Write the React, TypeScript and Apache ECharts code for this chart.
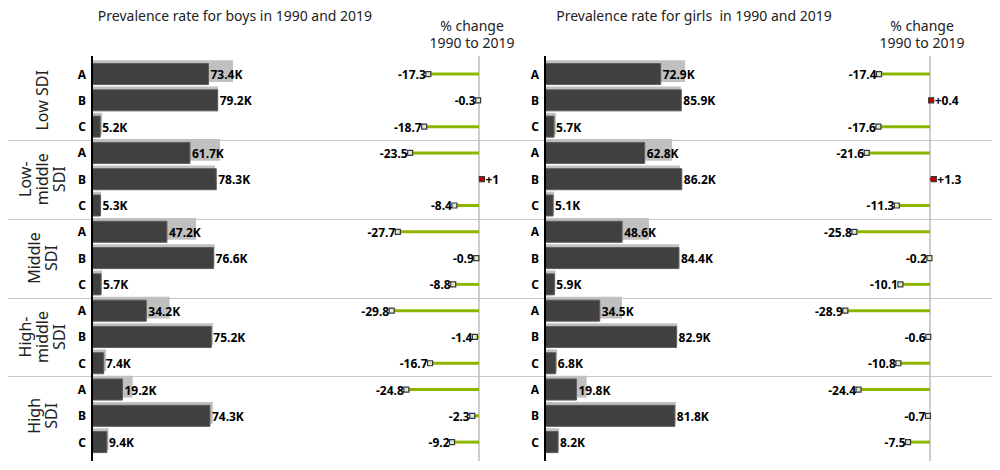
import React, { useEffect, useRef } from "react";
import * as echarts from "echarts";

const groupLabels = ["Low SDI", "Low-\nmiddle\nSDI", "Middle\nSDI", "High-\nmiddle\nSDI", "High\nSDI"];
const subcats = ["A", "B", "C"];
const boys2019 = [73.4, 79.2, 5.2, 61.7, 78.3, 5.3, 47.2, 76.6, 5.7, 34.2, 75.2, 7.4, 19.2, 74.3, 9.4];
const boys1990 = [88.8, 79.4, 6.4, 80.7, 77.5, 5.8, 65.6, 77.3, 6.3, 48.9, 76.3, 8.9, 25.6, 76.1, 10.4];
const boysChange = [-17.3, -0.3, -18.7, -23.5, 1, -8.4, -27.7, -0.9, -8.8, -29.8, -1.4, -16.7, -24.8, -2.3, -9.2];
const girls2019 = [72.9, 85.9, 5.7, 62.8, 86.2, 5.1, 48.6, 84.4, 5.9, 34.5, 82.9, 6.8, 19.8, 81.8, 8.2];
const girls1990 = [88.3, 85.6, 6.9, 80.1, 85.1, 5.8, 65.5, 84.6, 6.6, 48.5, 83.4, 7.6, 26.2, 82.4, 8.9];
const girlsChange = [-17.4, 0.4, -17.6, -21.6, 1.3, -11.3, -25.8, -0.2, -10.1, -28.9, -0.6, -10.8, -24.4, -0.7, -7.5];

const titleBoys = "Prevalence rate for boys in 1990 and 2019";
const titleGirls = "Prevalence rate for girls  in 1990 and 2019";
const titleChange = "% change\n1990 to 2019";

const FONT = '"Noto Sans", "Open Sans", sans-serif';
const TOP = 60.9;
const ROW = 26.29;
const NROWS = groupLabels.length * subcats.length;
const PLOT_H = ROW * NROWS;
const BAR_W = 158.7; // for 0..100 K
const CH_MIN = -35;
const CH_MAX = 5;
const CH_W = 117.2;
const BOYS_BAR_LEFT = 92;
const GIRLS_BAR_LEFT = 545;
const BOYS_ZERO = 479;
const GIRLS_ZERO = 930;

const rowCats: string[] = [];
groupLabels.forEach((g, gi) => subcats.forEach((s) => rowCats.push(gi + "|" + s)));

const prevRender = (params: any, api: any) => {
  const val = api.value(0);
  const idx = api.value(1);
  const p0 = api.coord([0, idx]);
  const p1 = api.coord([val, idx]);
  const band = api.size([0, 1])[1];
  const h = band * 0.8;
  return {
    type: "rect",
    shape: { x: p0[0], y: p0[1] - h / 2 - 3.3, width: p1[0] - p0[0], height: h + 0.7 },
    style: { fill: "#c0c0c0" },
  };
};

const curRender = (params: any, api: any) => {
  const val = api.value(0);
  const idx = api.value(1);
  const p0 = api.coord([0, idx]);
  const p1 = api.coord([val, idx]);
  const band = api.size([0, 1])[1];
  const h = band * 0.8;
  return {
    type: "group",
    children: [
      {
        type: "rect",
        shape: { x: p0[0], y: p0[1] - h / 2, width: p1[0] - p0[0], height: h },
        style: { fill: "#404040", stroke: "#5c5c5c", lineWidth: 1 },
      },
      {
        type: "text",
        style: {
          text: val.toFixed(1) + "K",
          x: p1[0] + 2,
          y: p1[1] + 0.5,
          align: "left",
          verticalAlign: "middle",
          fill: "#000",
          fontSize: 12,
          fontWeight: "bold",
          fontFamily: FONT,
        },
      },
    ],
  };
};

const changeRender = (params: any, api: any) => {
  const v = api.value(0);
  const idx = api.value(1);
  const p0 = api.coord([0, idx]);
  const p1 = api.coord([v, idx]);
  const color = v > 0 ? "#c00000" : "#8db500";
  const neg = v < 0;
  return {
    type: "group",
    children: [
      {
        type: "line",
        shape: { x1: p0[0], y1: p0[1], x2: p1[0], y2: p1[1] },
        style: { stroke: color, lineWidth: 3 },
      },
      {
        type: "rect",
        shape: { x: p1[0] - 2.5, y: p1[1] - 2.5, width: 5, height: 5 },
        style: { fill: neg ? "#e4ead0" : color, stroke: "#383838", lineWidth: 1.2 },
      },
      {
        type: "text",
        style: {
          text: neg ? String(v) : "+" + String(v),
          x: neg ? p1[0] - 2.5 : p1[0] + 3.5,
          y: p1[1] + 0.5,
          align: neg ? "right" : "left",
          verticalAlign: "middle",
          fill: "#000",
          fontSize: 12,
          fontWeight: "bold",
          fontFamily: FONT,
        },
      },
    ],
  };
};

const toData = (arr: number[]) => arr.map((v, i) => [v, i]);

function buildOption() {
  const grid = [
    { left: BOYS_BAR_LEFT, top: TOP, width: BAR_W, height: PLOT_H },
    { left: BOYS_ZERO + CH_MIN * (CH_W / (CH_MAX - CH_MIN)), top: TOP, width: CH_W, height: PLOT_H },
    { left: GIRLS_BAR_LEFT, top: TOP, width: BAR_W, height: PLOT_H },
    { left: GIRLS_ZERO + CH_MIN * (CH_W / (CH_MAX - CH_MIN)), top: TOP, width: CH_W, height: PLOT_H },
  ];
  const xAxis = [
    { gridIndex: 0, type: "value", min: 0, max: 100, show: false },
    { gridIndex: 1, type: "value", min: CH_MIN, max: CH_MAX, show: false },
    { gridIndex: 2, type: "value", min: 0, max: 100, show: false },
    { gridIndex: 3, type: "value", min: CH_MIN, max: CH_MAX, show: false },
  ];
  const catAxis = (gi: number, showLabels: boolean) => ({
    gridIndex: gi,
    type: "category",
    data: rowCats,
    inverse: true,
    axisLine: { show: false },
    axisTick: { show: false },
    splitLine: { show: false },
    axisLabel: {
      show: showLabels,
      margin: 6,
      formatter: (s: string) => s.split("|")[1],
      color: "#000",
      fontSize: 12,
      fontWeight: "bold",
      fontFamily: FONT,
    },
  });
  const yAxis = [catAxis(0, true), catAxis(1, false), catAxis(2, true), catAxis(3, false)];

  const series: any[] = [
    { type: "custom", xAxisIndex: 0, yAxisIndex: 0, renderItem: prevRender, data: toData(boys1990), encode: { x: 0, y: 1 }, z: 2 },
    { type: "custom", xAxisIndex: 0, yAxisIndex: 0, renderItem: curRender, data: toData(boys2019), encode: { x: 0, y: 1 }, z: 3 },
    { type: "custom", xAxisIndex: 1, yAxisIndex: 1, renderItem: changeRender, data: toData(boysChange), encode: { x: 0, y: 1 }, z: 3 },
    { type: "custom", xAxisIndex: 2, yAxisIndex: 2, renderItem: prevRender, data: toData(girls1990), encode: { x: 0, y: 1 }, z: 2 },
    { type: "custom", xAxisIndex: 2, yAxisIndex: 2, renderItem: curRender, data: toData(girls2019), encode: { x: 0, y: 1 }, z: 3 },
    { type: "custom", xAxisIndex: 3, yAxisIndex: 3, renderItem: changeRender, data: toData(girlsChange), encode: { x: 0, y: 1 }, z: 3 },
  ];

  const graphic: any[] = [];
  // separators
  for (let g = 1; g < groupLabels.length; g++) {
    const y = Math.round(TOP + g * subcats.length * ROW) + 0.5;
    graphic.push({
      type: "line",
      shape: { x1: 8, y1: y, x2: 992, y2: y },
      style: { stroke: "#c8c8c8", lineWidth: 1 },
      z: 1,
    });
  }
  // group labels
  groupLabels.forEach((g, gi) => {
    graphic.push({
      type: "text",
      x: 42,
      y: TOP + (gi * subcats.length + subcats.length / 2) * ROW,
      rotation: Math.PI / 2,
      style: {
        text: g,
        align: "center",
        verticalAlign: "middle",
        fill: "#222",
        fontSize: 16,
        lineHeight: 17,
        fontFamily: FONT,
      },
      z: 5,
    });
  });
  // axis lines
  [BOYS_BAR_LEFT, GIRLS_BAR_LEFT].forEach((x) =>
    graphic.push({
      type: "line",
      shape: { x1: x, y1: 56, x2: x, y2: 461 },
      style: { stroke: "#000", lineWidth: 2 },
      z: 10,
    })
  );
  [BOYS_ZERO, GIRLS_ZERO].forEach((x) =>
    graphic.push({
      type: "line",
      shape: { x1: x, y1: 56, x2: x, y2: 461 },
      style: { stroke: "#bdbdbd", lineWidth: 1.5 },
      z: 1,
    })
  );
  // titles
  const titles: [string, number, number][] = [
    [titleBoys, 235, 15],
    [titleGirls, 694, 15],
    [titleChange, 472, 34],
    [titleChange, 922, 34],
  ];
  titles.forEach(([t, x, y]) =>
    graphic.push({
      type: "text",
      x,
      y,
      style: {
        text: t,
        align: "center",
        verticalAlign: "middle",
        fill: "#222",
        fontSize: 14,
        lineHeight: 17,
        fontFamily: FONT,
      },
      z: 5,
    })
  );

  return { animation: false, grid, xAxis, yAxis, series, graphic };
}

export default function App() {
  const ref = useRef<HTMLDivElement>(null);
  useEffect(() => {
    document.body.style.margin = "0";
    if (!ref.current) return;
    const chart = echarts.init(ref.current, undefined, { renderer: "svg" });
    chart.setOption(buildOption() as any);
    return () => chart.dispose();
  }, []);
  return <div ref={ref} style={{ width: 1000, height: 470, background: "#fff" }} />;
}
